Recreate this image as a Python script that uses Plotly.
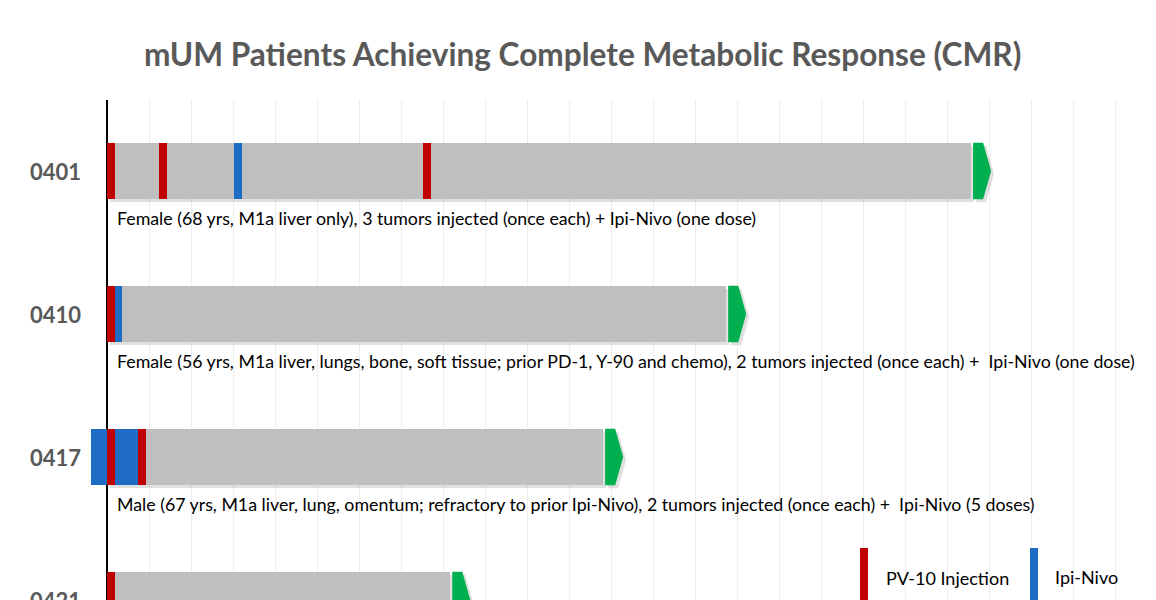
import plotly.graph_objects as go

# ---------------- data (x in grid units, one unit = one gridline spacing) ----------------
patients = ["0401", "0410", "0417", "0421"]
response_end = [20.57, 14.74, 11.81, 8.17]
pv10_times = [[0.0, 1.24, 7.52], [0.0], [0.0, 0.74], [0.0]]
ipi_start = [[3.02], [0.19], [-0.38, 0.19], []]
ipi_end = [[3.21], [0.36], [0.0, 0.74], []]
descriptions = [
    "Female (68 yrs, M1a liver only), 3 tumors injected (once each) + Ipi-Nivo (one dose)",
    "Female (56 yrs, M1a liver, lungs, bone, soft tissue; prior PD-1, Y-90 and chemo), 2 tumors injected (once each) +  Ipi-Nivo (one dose)",
    "Male (67 yrs, M1a liver, lung, omentum; refractory to prior Ipi-Nivo), 2 tumors injected (once each) +  Ipi-Nivo (5 doses)",
    "",
]
title = "mUM Patients Achieving Complete Metabolic Response (CMR)"
legend_labels = ["PV-10 Injection", "Ipi-Nivo"]

# ---------------- style ----------------
GRAY = "#bfbfbf"
RED = "#c00000"
BLUE = "#1f6cc4"
GREEN = "#00b050"
TXT = "#595959"
SHADOW = "rgba(0,0,0,0.12)"
BAR_H = 0.396
MARK_W = 0.19
FONT = "Lato"

fig = go.Figure()
ys = list(range(len(patients)))

# shadows
fig.add_trace(go.Bar(
    y=[y + 0.02 for y in ys], x=response_end, base=[0.07] * len(ys), orientation="h",
    width=BAR_H, marker=dict(color=SHADOW, line=dict(width=0)),
    hoverinfo="skip", showlegend=False))

# main gray bars
fig.add_trace(go.Bar(
    y=ys, x=response_end, base=[0] * len(ys), orientation="h", width=BAR_H,
    marker=dict(color=GRAY, line=dict(width=0)), showlegend=False, name="Follow-up"))

# PV-10 injections
py, px, pb = [], [], []
for i, times in enumerate(pv10_times):
    for t in times:
        py.append(i); px.append(MARK_W); pb.append(t)
fig.add_trace(go.Bar(y=py, x=px, base=pb, orientation="h", width=BAR_H,
                     marker=dict(color=RED, line=dict(width=0)), showlegend=False,
                     name=legend_labels[0]))

# Ipi-Nivo
by, bx, bb = [], [], []
for i, (ss, ee) in enumerate(zip(ipi_start, ipi_end)):
    for s, e in zip(ss, ee):
        by.append(i); bx.append(e - s); bb.append(s)
fig.add_trace(go.Bar(y=by, x=bx, base=bb, orientation="h", width=BAR_H,
                     marker=dict(color=BLUE, line=dict(width=0)), showlegend=False,
                     name=legend_labels[1]))

# green arrows (CMR)
GAP, RECT, TIP = 0.05, 0.24, 0.43
h = BAR_H / 2
for i, e in enumerate(response_end):
    s = e + GAP
    fig.add_trace(go.Scatter(
        x=[s + 0.07, s + RECT + 0.07, s + TIP + 0.07, s + RECT + 0.07, s + 0.07, s + 0.07],
        y=[i - h + 0.02, i - h + 0.02, i + 0.02, i + h + 0.02, i + h + 0.02, i - h + 0.02],
        fill="toself", fillcolor=SHADOW, line=dict(width=0), mode="lines",
        hoverinfo="skip", showlegend=False))
    fig.add_trace(go.Scatter(
        x=[s, s + RECT, s + TIP, s + RECT, s, s],
        y=[i - h, i - h, i, i + h, i + h, i - h],
        fill="toself", fillcolor=GREEN, line=dict(width=0), mode="lines",
        hoverinfo="skip", showlegend=False))

annotations = []
for i, (p, d) in enumerate(zip(patients, descriptions)):
    annotations.append(dict(x=-0.002, xref="paper", y=i, yref="y", text=f"<b>{p}</b>",
                            showarrow=False, xanchor="right", yanchor="middle",
                            font=dict(family=FONT, size=22, color=TXT)))
    if d:
        annotations.append(dict(x=0.2, xref="x", y=i + 0.33, yref="y", text=d,
                                showarrow=False, xanchor="left", yanchor="middle",
                                font=dict(family=FONT, size=17.75, color="black")))

# legend (drawn manually)
shapes = [
    dict(type="rect", xref="paper", yref="paper", x0=(860 - 85) / 1071, x1=(868 - 85) / 1071,
         y0=0, y1=52 / 500, fillcolor=RED, line=dict(width=0)),
    dict(type="rect", xref="paper", yref="paper", x0=(1030 - 85) / 1071, x1=(1038 - 85) / 1071,
         y0=0, y1=52 / 500, fillcolor=BLUE, line=dict(width=0)),
]
annotations.append(dict(x=(884 - 85) / 1071, xref="paper", y=22 / 500, yref="paper",
                        text=legend_labels[0], showarrow=False, xanchor="left", yanchor="middle",
                        font=dict(family=FONT, size=18, color="black")))
annotations.append(dict(x=(1053 - 85) / 1071, xref="paper", y=23 / 500, yref="paper",
                        text=legend_labels[1], showarrow=False, xanchor="left", yanchor="middle",
                        font=dict(family=FONT, size=18, color="black")))

fig.update_layout(
    width=1156, height=600,
    margin=dict(l=85, r=0, t=100, b=0),
    paper_bgcolor="white", plot_bgcolor="white",
    barmode="overlay", bargap=0,
    title=dict(text=f"<b>{title}</b>", x=0.504, xanchor="center", y=0.908, yanchor="middle",
               font=dict(family=FONT, size=31.6, color=TXT)),
    xaxis=dict(range=[-22 / 42, 1049 / 42], dtick=1, tick0=0, showgrid=True,
               gridcolor="#eeeeee", gridwidth=1, zeroline=True, zerolinecolor="black",
               zerolinewidth=1.5, showticklabels=False, ticks=""),
    yaxis=dict(range=[3.0, -0.497], showgrid=False, zeroline=False,
               showticklabels=False, ticks=""),
    annotations=annotations, shapes=shapes,
)

fig.write_html("out.html", config={"displayModeBar": False},
               post_script="document.body.style.margin='0';document.body.style.overflow='hidden';")
